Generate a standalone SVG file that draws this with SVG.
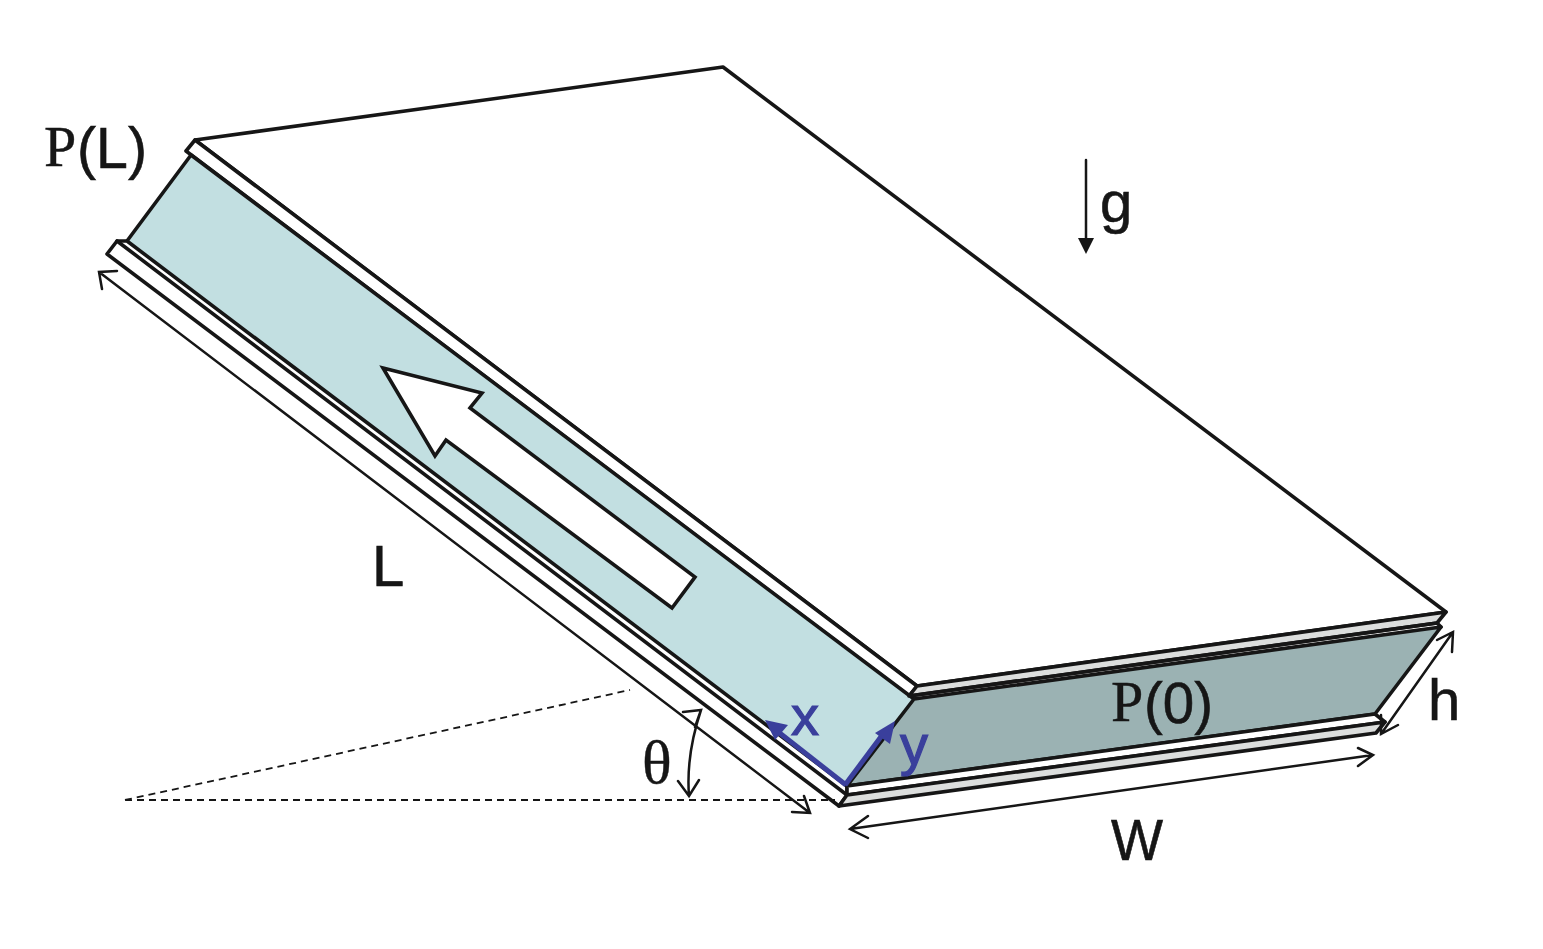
<svg xmlns="http://www.w3.org/2000/svg" width="1543" height="949" viewBox="0 0 1543 949">
<style>
.o{stroke:#161616;stroke-width:3.6;stroke-linejoin:round;stroke-linecap:round}
.t{fill:none;stroke:#161616;stroke-width:2.5;stroke-linecap:round;stroke-linejoin:miter}
.d{fill:none;stroke:#161616;stroke-width:1.8;stroke-dasharray:7 5}
.s{font-family:"Liberation Sans",Arial,sans-serif;font-size:58px;fill:#161616;stroke:#161616;stroke-width:.6}
.r{font-family:"Liberation Serif","Times New Roman",serif;font-size:58px;fill:#161616;stroke:#161616;stroke-width:.4}
.b{font-family:"Liberation Sans",Arial,sans-serif;font-size:56px;fill:#3a3f9c;stroke:#3a3f9c;stroke-width:1.2}
.a{fill:none;stroke:#3a3f9c;stroke-width:5}
</style>
<rect width="1543" height="949" fill="#fff"/>
<g id="top-plate">
<path class="o" fill="#fff" d="M195 140L723 67L1446 612L917 686Z"/>
<path class="o" fill="#fff" d="M195 140L186 151L909 696L917 686Z"/>
<path class="o" fill="#dcdedd" d="M917 686L1446 612L1437 623L909 696Z"/>
</g>
<g id="channel">
<path fill="#c2dfe1" d="M191 155L914 699L847 786L127 241Z"/>
<path class="o" fill="none" d="M127 241L191 155L914 699"/>
<path class="o" fill="#9bb2b3" d="M914 699L1441 627L1375 714L847 786Z"/>
<path class="o" fill="none" d="M909 696L1437 623L1441 627"/>
</g>
<g id="bottom-plate">
<path class="o" fill="#fff" d="M117 241L127 241L847 786L847 795L839 806L107 254Z"/>
<path class="o" fill="none" d="M117 241L847 795"/>
<path class="o" fill="#fff" d="M847 786L1375 714L1385 722L847 795Z"/>
<path class="o" fill="#dcdedd" d="M847 795L1385 722L1376 733L839 806Z"/>
</g>
<g id="flow-arrow">
<path class="o" style="stroke-linejoin:miter" fill="#fff" d="M383 368L482 393L470 408L695 577L672 608L446 440L435 456Z"/>
</g>
<g id="connectors">
<path class="d" d="M125 800L835 800M125 800L630 690"/>
<path class="t" d="M1086 160L1086 242"/>
<path fill="#161616" d="M1078 238L1094 238L1086 254Z"/>
<path class="t" d="M99 272L810 813M102 289L99 272L117 271M792 812L810 813L804 796"/>
<path class="t" d="M850 829L1373 755M868 816L850 829L868 838M1358 748L1373 755L1358 766"/>
<path class="t" d="M1381 734L1453 632M1437 640L1453 632L1452 652M1381 715L1381 734L1398 725"/>
<path class="t" d="M701 710C691 740 687 770 689 796M683 712L701 710L695 727M678 781L689 796L699 780"/>
<path class="a" d="M846 785L772 727"/>
<path fill="#3a3f9c" d="M765 720L788 725L775 740Z"/>
<path class="a" d="M845 785L886 730"/>
<path fill="#3a3f9c" d="M895 721L890 744L875 733Z"/>
</g>
<g id="labels">
<text class="r" x="44" y="166">P</text>
<text class="s" x="77" y="168" textLength="70" lengthAdjust="spacingAndGlyphs">(L)</text>
<text class="s" x="1100" y="222">g</text>
<text class="s" x="372" y="586">L</text>
<text class="r" x="1111" y="721">P</text>
<text class="s" x="1144" y="723" textLength="69" lengthAdjust="spacingAndGlyphs">(0)</text>
<text class="s" x="1428" y="720">h</text>
<text class="s" x="1111" y="860" textLength="52" lengthAdjust="spacingAndGlyphs">W</text>
<text class="r" x="642" y="783" style="font-size:62px">θ</text>
<text class="b" x="791" y="735">x</text>
<text class="b" x="900" y="764">y</text>
</g>
</svg>
